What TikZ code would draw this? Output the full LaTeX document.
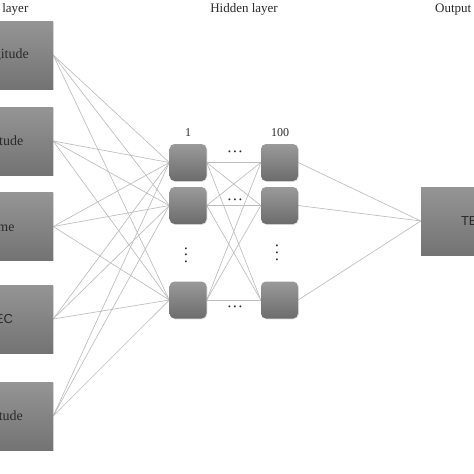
\documentclass[tikz,border=0pt]{standalone}
\usepackage{fontspec}
\setmainfont{Liberation Serif}
\newfontfamily\sansf{Liberation Sans}
\usetikzlibrary{shadows,backgrounds}
\definecolor{boxtop}{HTML}{959595}
\definecolor{boxbot}{HTML}{737373}
\definecolor{hidtop}{HTML}{9A9A9A}
\definecolor{hidbot}{HTML}{6C6C6C}
\definecolor{wire}{HTML}{BDBDBD}
\definecolor{txt}{HTML}{2A2A2A}
\tikzset{
  x=1pt, y=-1pt,
  bigbox/.style={rectangle, minimum width=106pt, minimum height=68pt, inner sep=0pt,
    top color=boxtop, bottom color=boxbot, draw=none,
    drop shadow={opacity=0.25, shadow xshift=0.8pt, shadow yshift=-0.8pt},
    font=\fontsize{14}{16}\selectfont, text=txt},
  hid/.style={rectangle, rounded corners=5pt, minimum width=37pt, minimum height=37pt, inner sep=0pt,
    top color=hidtop, bottom color=hidbot, draw=none,
    drop shadow={opacity=0.25, shadow xshift=0.8pt, shadow yshift=-0.8pt}},
  title/.style={font=\fontsize{13}{15}\selectfont, text=txt, inner sep=0pt},
  num/.style={font=\fontsize{12}{14}\selectfont, text=txt, inner sep=0pt},
  hdots/.style={font=\fontsize{8}{8}\selectfont, text=txt, inner sep=0pt},
  vdotsn/.style={font=\fontsize{8}{6.7}\selectfont, text=txt, inner sep=0pt, align=center},
  wirestyle/.style={draw=wire, line width=0.65pt}
}
\newcommand{\hbul}{\textbullet\hspace{2.6pt}\textbullet\hspace{2.6pt}\textbullet}
\newcommand{\vbul}{\textbullet\\\textbullet\\\textbullet}
\begin{document}
\begin{tikzpicture}
\useasboundingbox (0,0) rectangle (474,474);
\clip (0,0) rectangle (474,474);
% titles
\node[title] (tin) at (0,9) {Input layer};
\node[title] (thid) at (244,9) {Hidden layer};
\node[title, anchor=west] (tout) at (435,9) {Output layer};
% input boxes
\node[bigbox] (i1) at (0,55) {Longitude};
\node[bigbox] (i2) at (0,141) {Latitude};
\node[bigbox] (i3) at (0,226.5) {Time};
\node[bigbox, font=\fontsize{13}{15}\selectfont\sansf] (i4) at (0,319) {TEC};
\node[bigbox] (i5) at (0,416) {Altitude};
% hidden
\node[hid] (a1) at (188,162.5) {};
\node[hid] (a2) at (188,205.5) {};
\node[hid] (a3) at (188,300) {};
\node[hid] (b1) at (279.5,162.5) {};
\node[hid] (b2) at (279.5,205.5) {};
\node[hid] (b3) at (279.5,300) {};
\node[num] (n1) at (188,133) {1};
\node[num] (n100) at (280,133) {100};
% output
\node[bigbox, font=\fontsize{13}{15}\selectfont\sansf] (o) at (474,221) {TEC};
% dots
\node[hdots] (d1) at (235,153) {\hbul};
\node[hdots] (d2) at (235,201) {\hbul};
\node[hdots] (d3) at (235,308) {\hbul};
\node[vdotsn] (v1) at (186,256) {\vbul};
\node[vdotsn] (v2) at (277,253.5) {\vbul};
% wires
\begin{scope}[on background layer]
\fill[white] (0,0) rectangle (474,474);
\foreach \i in {i1,i2,i3,i4,i5}{
  \foreach \a in {a1,a2,a3}{
    \draw[wirestyle] (\i.east) -- (\a.west);
  }
}
\foreach \a in {a1,a2,a3}{
  \foreach \b in {b1,b2,b3}{
    \draw[wirestyle] (\a.east) -- (\b.west);
  }
}
\foreach \b in {b1,b2,b3}{
  \draw[wirestyle] (\b.east) -- (o.west);
}
\end{scope}
\end{tikzpicture}
\end{document}
